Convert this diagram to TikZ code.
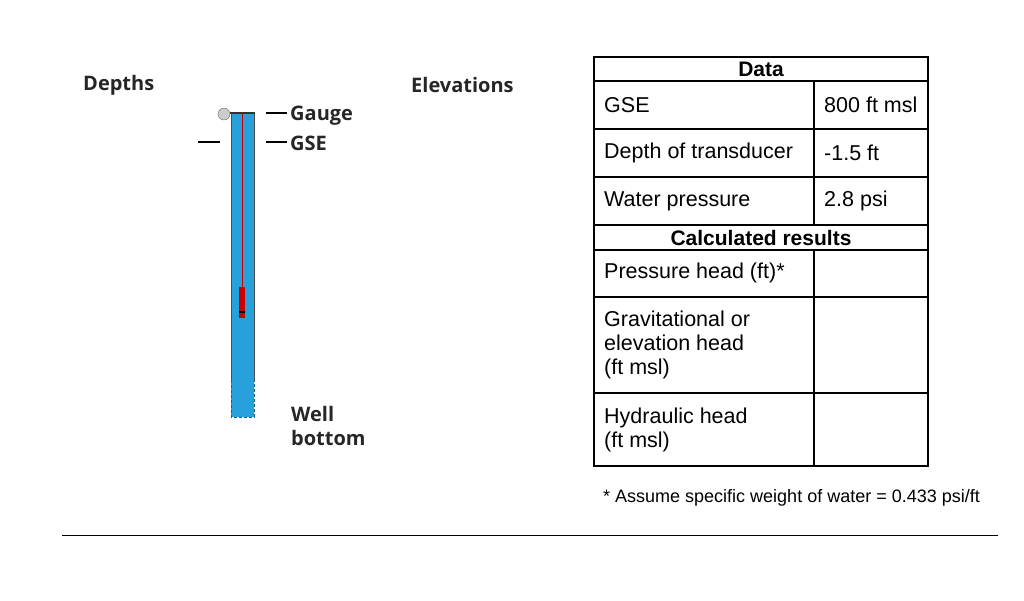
\documentclass[tikz,border=0pt]{standalone}
\usepackage{fontspec}
\setmainfont{Liberation Sans}
\newfontfamily\lblfont{Open Sans}
\begin{document}
\begin{tikzpicture}[x=1pt,y=-1pt,
  lbl/.style={font=\lblfont\fontsize{20}{24}\selectfont\bfseries, text=black!85, inner sep=0},
  cell/.style={font=\fontsize{21.5}{24}\selectfont, anchor=west, align=left, inner sep=0},
  hdr/.style={font=\fontsize{21}{22}\selectfont\bfseries, inner sep=0}]
\useasboundingbox (0,0) rectangle (1024,600);
\definecolor{wellblue}{RGB}{40,160,220}
% well
\fill[wellblue] (231,113) rectangle (254,417);
\draw[black!70,line width=0.8pt] (231,113) -- (231,380) (254,113) -- (254,380);
\draw[wellblue!60!black,densely dashed,line width=0.6pt] (231,380) -- (231,417) -- (254,417) -- (254,380);
\draw[black!80,line width=1.2pt] (230,113) -- (255,113);
\draw[red!80!black,line width=0.6pt] (242,113) -- (242,288);
\node[fill=red!80!black,minimum width=6pt,minimum height=31pt,inner sep=0] (tr) at (242,302.5) {};
\draw[black,line width=1.2pt] (239,312) -- (245,312);
\node[circle,draw=black!60,fill=black!20,minimum size=12pt,inner sep=0] (g) at (224,114) {};
\draw[line width=1.3pt] (198,142) -- (220,142) (266,142) -- (287,142) (266,113) -- (287,113);
\node[lbl,anchor=west] (gauge) at (290,116) {Gauge};
\node[lbl,anchor=west] (gse) at (290,143) {GSE};
\node[lbl,anchor=west] (depths) at (83,85) {Depths};
\node[lbl,anchor=west] (elev) at (411,85) {Elevations};
\node[lbl,anchor=north west,align=left] (wb) at (291,406) {Well\\bottom};
% table
\draw[line width=1.1pt] (594,57) rectangle (928,466);
\foreach \y in {81,129,177,225,250,297,393} \draw[line width=1.1pt] (594,\y) -- (928,\y);
\draw[line width=1.1pt] (814,81) -- (814,225) (814,250) -- (814,466);
\node[hdr] (h1) at (761,69) {Data};
\node[hdr] (h2) at (761,237.5) {Calculated results};
\node[cell] (c1) at (604,105) {GSE};
\node[cell] (c1b) at (824,105) {800 ft msl};
\node[cell] (c2) at (604,153) {Depth of transducer};
\node[cell] (c2b) at (824,153) {-1.5 ft};
\node[cell] (c3) at (604,201) {Water pressure};
\node[cell] (c3b) at (824,201) {2.8 psi};
\node[cell] (c4) at (604,273) {Pressure head (ft)*};
\node[cell] (c5) at (604,345) {Gravitational or\\elevation head\\(ft msl)};
\node[cell] (c6) at (604,430) {Hydraulic head\\(ft msl)};
\node[font=\fontsize{18}{20}\selectfont,anchor=west,inner sep=0] (note) at (603,498) {* Assume specific weight of water = 0.433 psi/ft};
\draw[line width=1pt] (62,535) -- (998,535);
\end{tikzpicture}
\end{document}
